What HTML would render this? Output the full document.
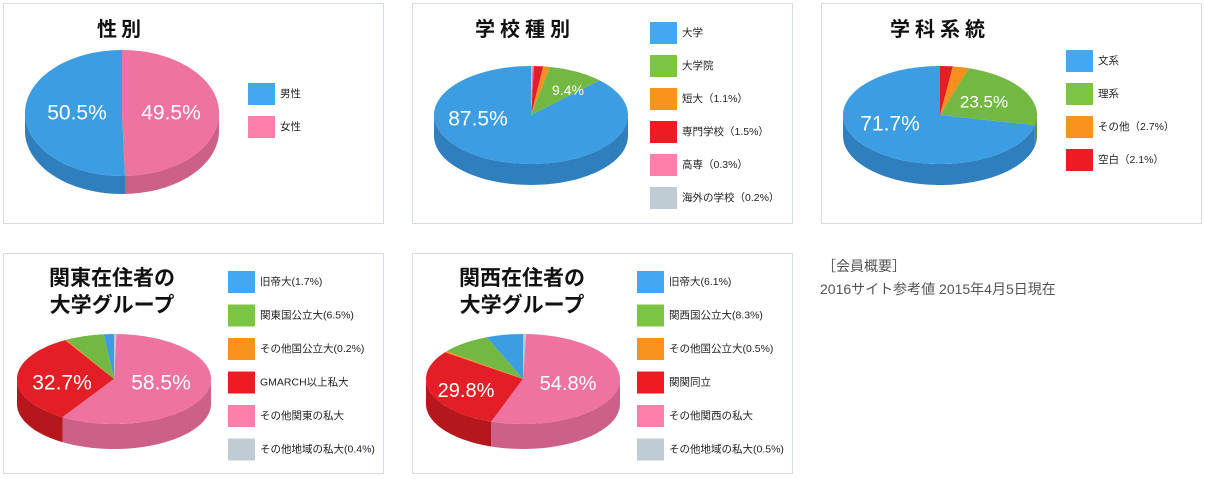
<!DOCTYPE html>
<html><head><meta charset="utf-8">
<style>
body{margin:0;background:#fff;width:1205px;height:479px;overflow:hidden;font-family:"Liberation Sans","Noto Sans CJK JP",sans-serif;}
svg{display:block}
</style></head><body>
<svg id="chart" width="1205" height="479" xmlns="http://www.w3.org/2000/svg" font-family="Liberation Sans, Noto Sans CJK JP, sans-serif">
<rect x="3.5" y="3.5" width="380" height="220" fill="#fff" stroke="#d5dbe3"/>
<rect x="412.5" y="3.5" width="380" height="220" fill="#fff" stroke="#d5dbe3"/>
<rect x="821.5" y="3.5" width="380" height="220" fill="#fff" stroke="#d5dbe3"/>
<rect x="3.5" y="253.5" width="380" height="220" fill="#fff" stroke="#d5dbe3"/>
<rect x="412.5" y="253.5" width="380" height="220" fill="#fff" stroke="#d5dbe3"/>
<text x="822" y="271" font-size="14" fill="#555">［会員概要］</text>
<text x="820" y="294" font-size="14" fill="#555">2016サイト参考値 2015年4月5日現在</text>
</svg>
<script>
// ---- data ----
const genderLabels = ["男性","女性"];
const genderValues = [50.5, 49.5];
const schoolLabels = ["大学","大学院","短大（1.1%）","専門学校（1.5%）","高専（0.3%）","海外の学校（0.2%）"];
const schoolValues = [87.5, 9.4, 1.1, 1.5, 0.3, 0.2];
const facultyLabels = ["文系","理系","その他（2.7%）","空白（2.1%）"];
const facultyValues = [71.7, 23.5, 2.7, 2.1];
const kantoLabels = ["旧帝大(1.7%)","関東国公立大(6.5%)","その他国公立大(0.2%)","GMARCH以上私大","その他関東の私大","その他地域の私大(0.4%)"];
const kantoValues = [1.7, 6.5, 0.2, 32.7, 58.5, 0.4];
const kansaiLabels = ["旧帝大(6.1%)","関西国公立大(8.3%)","その他国公立大(0.5%)","関関同立","その他関西の私大","その他地域の私大(0.5%)"];
const kansaiValues = [6.1, 8.3, 0.5, 29.8, 54.8, 0.5];

const C = {
  blue:["#3d9de3","#2f7fbf","#42a8f0"], pink:["#ee73a0","#cc6088","#ff7eaa"],
  green:["#72b843","#5a9634","#7cc444"], orange:["#f7901e","#c9741a","#f7931e"],
  red:["#e41e26","#b5171d","#ed1c24"], gray:["#bdc9d1","#9aa6ae","#bfccd4"]
};
const NS="http://www.w3.org/2000/svg";
const svg=document.getElementById('chart');
function mk(tag,attrs,parent){const e=document.createElementNS(NS,tag);for(const k in attrs)e.setAttribute(k,attrs[k]);(parent||svg).appendChild(e);return e;}

function pie(cfg){
  const g=mk('g',{});
  
  
  const tot=cfg.values.reduce((a,b)=>a+b,0);
  const P=(th,dy)=>[cfg.cx-cfg.rx*Math.sin(th), cfg.cy-cfg.ry*Math.cos(th)+(dy||0)];
  let acc=0; const sl=[];
  cfg.values.forEach((v,i)=>{const a1=acc/tot*2*Math.PI; acc+=v; const a2=acc/tot*2*Math.PI; sl.push([a1,a2]);});
  // sides
  sl.forEach(([a1,a2],i)=>{
    const s=Math.max(a1,Math.PI/2), e=Math.min(a2,1.5*Math.PI);
    if(e<=s) return;
    const pts=[];const n=40;
    for(let k=0;k<=n;k++){pts.push(P(s+(e-s)*k/n));}
    for(let k=n;k>=0;k--){pts.push(P(s+(e-s)*k/n,cfg.depth));}
    const p=mk('polygon',{points:pts.map(q=>q.map(x=>x.toFixed(1)).join(',')).join(' '),fill:C[cfg.colors[i]][1]},g);
    
    
  });
  // tops
  sl.forEach(([a1,a2],i)=>{
    const pts=[[cfg.cx,cfg.cy]];const n=Math.max(2,Math.ceil((a2-a1)*40));
    for(let k=0;k<=n;k++)pts.push(P(a1+(a2-a1)*k/n));
    const p=mk('polygon',{points:pts.map(q=>q.map(x=>x.toFixed(1)).join(',')).join(' '),fill:C[cfg.colors[i]][0]},g);
    
    
  });
  // value labels
  (cfg.show||[]).forEach(([i,lx,ly,fs])=>{
    const t=mk('text',{x:lx,y:ly,'font-size':fs,fill:'#fff','text-anchor':'middle','dominant-baseline':'central'},g);
    t.textContent=cfg.values[i].toFixed(1)+'%';
    
    
  });
  // legend
  cfg.labels.forEach((lab,i)=>{
    const y=cfg.ly+i*cfg.lstep;
    const r=mk('rect',{x:cfg.lx,y:y,width:27,height:22,fill:C[cfg.colors[i]][2]},g);
    
    
    const t=mk('text',{x:cfg.lx+32,y:y+11,'font-size':10.5,fill:'#222','dominant-baseline':'central'},g);
    t.textContent=lab;
    
    
  });
  // title
  cfg.title.forEach((line,k)=>{
    const t=mk('text',{x:cfg.tx,y:cfg.ty+k*27,'font-size':cfg.tfs,'font-weight':'bold',fill:'#111','text-anchor':'middle','letter-spacing':cfg.tls||0},g);
    t.textContent=line;
    
    
  });
}

pie({name:'gender',values:genderValues,labels:genderLabels,colors:['blue','pink'],cx:122,cy:113,rx:97,ry:63,depth:18,
  show:[[0,77,113,21],[1,171,113,21]],lx:248,ly:83,lstep:33,title:['性別'],tx:121,ty:36,tfs:20,tls:4});
pie({name:'school-type',values:schoolValues,labels:schoolLabels,colors:['blue','green','orange','red','pink','gray'],cx:531,cy:115,rx:97,ry:49,depth:21,
  show:[[0,478,119,21],[1,568,90,14]],lx:650,ly:22,lstep:33,title:['学校種別'],tx:525,ty:36,tfs:20,tls:5});
pie({name:'faculty',values:facultyValues,labels:facultyLabels,colors:['blue','green','orange','red'],cx:940,cy:115,rx:97,ry:49,depth:21,
  show:[[0,890,124,21],[1,984,102,17]],lx:1066,ly:50,lstep:33,title:['学科系統'],tx:940,ty:36,tfs:20,tls:5});
pie({name:'kanto',values:kantoValues,labels:kantoLabels,colors:['blue','green','orange','red','pink','gray'],cx:114,cy:379,rx:97,ry:45,depth:25,
  show:[[4,161,383,21],[3,62,383,21]],lx:228,ly:271,lstep:33.5,title:['関東在住者の','大学グループ'],tx:112,ty:285,tfs:21});
pie({name:'kansai',values:kansaiValues,labels:kansaiLabels,colors:['blue','green','orange','red','pink','gray'],cx:523,cy:379,rx:97,ry:45,depth:25,
  show:[[4,568,384,20],[3,466,391,20]],lx:637,ly:271,lstep:33.5,title:['関西在住者の','大学グループ'],tx:522,ty:285,tfs:21});
</script>
</body></html>
